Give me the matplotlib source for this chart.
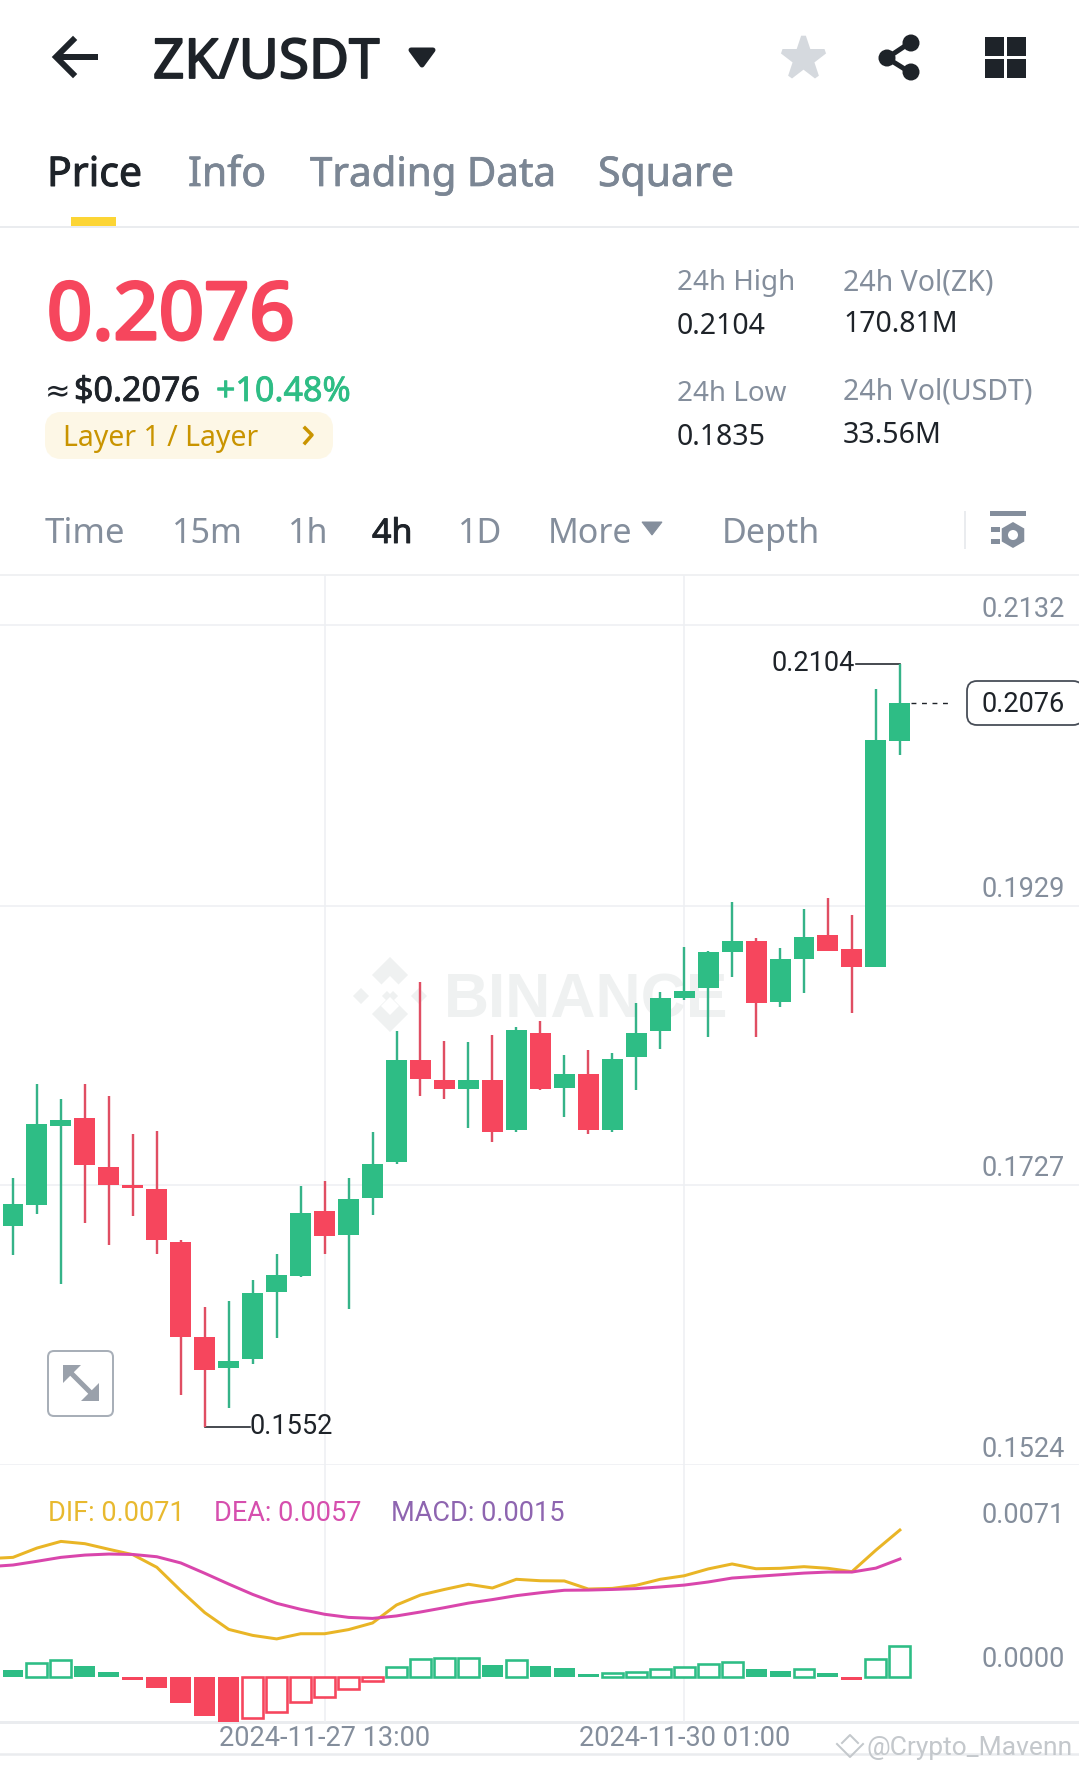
import numpy as np
import matplotlib
matplotlib.use("Agg")
import matplotlib.pyplot as plt
import matplotlib.patheffects as pe
from matplotlib.patches import FancyBboxPatch, Polygon, Rectangle, Circle, RegularPolygon

# candles, 4h bars
open_px = [0.16973, 0.17123, 0.17695, 0.17751, 0.17401, 0.17272, 0.17241, 0.16859, 0.16168, 0.15941,
           0.16011, 0.16492, 0.16610, 0.17079, 0.16910, 0.17173, 0.17434, 0.18174, 0.18031, 0.17966,
           0.18031, 0.17664, 0.18373, 0.17975, 0.18073, 0.17664, 0.18195, 0.18386, 0.18625, 0.18697,
           0.18956, 0.19036, 0.18596, 0.18909, 0.19078, 0.18977, 0.18845, 0.20481]
close_px = [0.17130, 0.17712, 0.17741, 0.17413, 0.17272, 0.17251, 0.16871, 0.16170, 0.15929, 0.15996,
            0.16487, 0.16620, 0.17069, 0.16903, 0.17171, 0.17420, 0.18174, 0.18036, 0.17966, 0.18031,
            0.17654, 0.18394, 0.17962, 0.18073, 0.17664, 0.18184, 0.18373, 0.18625, 0.18674, 0.18956,
            0.19036, 0.18586, 0.18907, 0.19065, 0.18966, 0.18845, 0.20489, 0.20760]
high_px = [0.17321, 0.18002, 0.17894, 0.18002, 0.17913, 0.17642, 0.17662, 0.16869, 0.16388, 0.16429,
           0.16579, 0.16770, 0.17260, 0.17301, 0.17321, 0.17652, 0.18384, 0.18742, 0.18314, 0.18304,
           0.18353, 0.18413, 0.18454, 0.18213, 0.18244, 0.18223, 0.18586, 0.18663, 0.18995, 0.18964,
           0.19316, 0.19057, 0.18984, 0.19267, 0.19347, 0.19225, 0.20862, 0.2104]
low_px = [0.16762, 0.17062, 0.16552, 0.16992, 0.16833, 0.17043, 0.16772, 0.15747, 0.1552, 0.15658,
          0.15970, 0.16158, 0.16601, 0.16772, 0.16371, 0.17052, 0.17422, 0.17913, 0.17894, 0.17683,
          0.17582, 0.17652, 0.17954, 0.17762, 0.17635, 0.17654, 0.17954, 0.18257, 0.18606, 0.18342,
          0.18775, 0.18342, 0.18555, 0.18658, 0.18966, 0.18516, 0.18845, 0.20380]

# MACD pane, the two lines start one bar before the first candle
dif = [0.00572, 0.00578, 0.00623, 0.00655, 0.00644, 0.00617, 0.00591, 0.00530, 0.00417, 0.00311,
       0.00230, 0.00201, 0.00184, 0.00209, 0.00209, 0.00229, 0.00261, 0.00348, 0.00396, 0.00423,
       0.00448, 0.00430, 0.00472, 0.00465, 0.00464, 0.00425, 0.00428, 0.00443, 0.00472, 0.00489,
       0.00522, 0.00546, 0.00523, 0.00525, 0.00533, 0.00525, 0.00509, 0.00613, 0.0071]
dea = [0.00533, 0.00541, 0.00559, 0.00578, 0.00589, 0.00594, 0.00592, 0.00581, 0.00551, 0.00501,
       0.00449, 0.00399, 0.00356, 0.00327, 0.00303, 0.00288, 0.00283, 0.00295, 0.00314, 0.00335,
       0.00357, 0.00374, 0.00393, 0.00407, 0.00419, 0.00420, 0.00423, 0.00427, 0.00435, 0.00444,
       0.00459, 0.00478, 0.00486, 0.00494, 0.00502, 0.00507, 0.00507, 0.00526, 0.0057]
macd = [0.00035, 0.00069, 0.00081, 0.00053, 0.00023, -0.00013, -0.00052, -0.00127, -0.00188, -0.00217,
        -0.00200, -0.00171, -0.00119, -0.00095, -0.00060, -0.00021, 0.00050, 0.00085, 0.00090, 0.00091,
        0.00056, 0.00082, 0.00053, 0.00045, 0.00013, 0.00021, 0.00023, 0.00039, 0.00047, 0.00064,
        0.00072, 0.00037, 0.00031, 0.00037, 0.00018, -0.00013, 0.00089, 0.0015]

price_ticks = [0.2132, 0.1929, 0.1727, 0.1524]
macd_ticks = [0.0071, 0.0]
date_pos = [13, 28]
date_labels = ["2024-11-27 13:00", "2024-11-30 01:00"]

GREEN = "#2ebd85"
RED = "#f6465d"
DARK = "#1e2329"
GRAY = "#848e9c"
GRID = "#eef0f3"
UI_FONT = ["Noto Sans", "DejaVu Sans"]
CHART_FONT = "Roboto"
CHART_SIZE = 19.5

W, H = 1079, 1769
DPI = 100


def pt(px):
    return px * 72 / DPI


def bar_x(v):
    # candle index from pixel x
    return (v - 13) / 23.97


fig = plt.figure(figsize=(W / DPI, H / DPI), dpi=DPI, facecolor="white")

# page chrome in pixel coordinates
ui = fig.add_axes([0, 0, 1, 1], zorder=0)
ui.set_xlim(0, W)
ui.set_ylim(H, 0)
ui.axis("off")


def label(x, y, s, size, color=GRAY, stroke=0, ha="left", family=UI_FONT):
    t = ui.text(x, y, s, fontsize=size, color=color, ha=ha, va="baseline", family=family)
    if stroke:
        # the UI font only comes in one weight here, thicken it a bit
        t.set_path_effects([pe.withStroke(linewidth=pt(stroke), foreground=color)])


# top bar
ui.plot([98, 57], [57, 57], color=DARK, lw=pt(6), solid_capstyle="butt")
ui.plot([73, 56, 73], [40, 57, 74], color=DARK, lw=pt(6), solid_joinstyle="miter")
label(153, 78, "ZK/USDT", 39.5, DARK, stroke=1.8)
ui.add_patch(Polygon([[411, 50], [433, 50], [422, 65]], closed=True, fc=DARK, ec=DARK, lw=pt(5), joinstyle="round"))
ui.plot(803, 58, marker="*", ms=pt(44), color="#d5d9de", mec="#d5d9de", mew=pt(5), mfc="#d5d9de")
ui.plot([911, 887, 911], [42, 58, 73], color=DARK, lw=pt(5))
for cx, cy in [(911, 43), (887, 58), (911, 72)]:
    ui.add_patch(Circle((cx, cy), 8.5, fc=DARK, ec="none"))
for x0 in (985, 1007):
    for y0 in (37, 59):
        ui.add_patch(Rectangle((x0, y0), 18.5, 18.5, fc=DARK, ec="none"))

# tabs
label(47, 186, "Price", 29.5, DARK, stroke=1)
label(188, 186, "Info", 29.5, "#7b8694", stroke=0.7)
label(310, 186, "Trading Data", 29, "#7b8694", stroke=0.7)
label(598, 186, "Square", 29.5, "#7b8694", stroke=0.7)
ui.add_patch(Rectangle((71, 217), 45, 9, fc="#fcd535", ec="none"))
ui.plot([0, W], [227, 227], color="#eaecef", lw=pt(2))

# price block
label(47, 339, "0.2076", 57, RED, stroke=3.4)
label(45, 401, "≈", 22, DARK)
label(74, 401, "$0.2076", 24.5, DARK, stroke=0.8)
label(216, 401, "+10.48%", 24.5, GREEN, stroke=0.8)
ui.add_patch(FancyBboxPatch((53, 420), 272, 31, boxstyle="round,pad=0,rounding_size=8", mutation_aspect=1,
                            fc="#fdf7e6", ec="#fdf7e6", lw=pt(16)))
label(63, 446, "Layer 1 / Layer", 20.5, "#c99400")
ui.plot([305, 312, 305], [428, 435, 443], color="#c99400", lw=pt(3.5))

# 24h stats
label(677, 290, "24h High", 20)
label(677, 334, "0.2104", 20.5, DARK)
label(843, 290, "24h Vol(ZK)", 20.5)
label(843, 332, "170.81M", 20.5, DARK)
label(677, 401, "24h Low", 20)
label(677, 445, "0.1835", 20.5, DARK)
label(843, 399, "24h Vol(USDT)", 20.5)
label(843, 443, "33.56M", 20.5, DARK)

# interval row
label(45, 543, "Time", 25)
label(172, 543, "15m", 24.5)
label(288, 543, "1h", 24.5)
label(372, 543, "4h", 24.5, DARK, stroke=0.9)
label(458, 543, "1D", 24.5)
label(548, 543, "More", 24.5)
ui.add_patch(Polygon([[642, 522], [662, 522], [652, 535]], closed=True, fc=GRAY, ec=GRAY, lw=pt(1)))
label(722, 543, "Depth", 24.5)
ui.plot([965, 965], [512, 548], color="#eaecef", lw=pt(2))
ui.add_patch(Rectangle((990, 511), 36, 5, fc=GRAY, ec="none"))
for y0 in (527, 539):
    ui.add_patch(Rectangle((991, y0), 9, 5, fc=GRAY, ec="none"))
ui.add_patch(RegularPolygon((1013, 535), 6, radius=13, fc=GRAY, ec="none"))
ui.add_patch(Circle((1013, 535), 5, fc="white", ec="none"))
ui.plot([0, W], [574.5, 574.5], color="#f0f1f3", lw=pt(2))
ui.plot([0, W], [1722, 1722], color="#eaecef", lw=pt(3))
ui.plot([0, W], [1754, 1754], color="#eaecef", lw=pt(2.5))

# price pane
chart_top, chart_bottom = 575, 1465.3
px_per_price = 13793
y_hi = 0.2132 + (625.4 - chart_top) / px_per_price
y_lo = 0.1524
ax = fig.add_axes([0, 1 - chart_bottom / H, 1, (chart_bottom - chart_top) / H], zorder=1)
ax.patch.set_visible(False)
ax.set_xlim(bar_x(0), bar_x(W))
ax.set_ylim(y_lo, y_hi)
for s in ax.spines.values():
    s.set_visible(False)
ax.set_yticks(price_ticks, [""] * len(price_ticks))
ax.set_xticks(date_pos, [""] * len(date_pos))
ax.tick_params(length=0)
ax.grid(True, color=GRID, lw=pt(1.6))
ax.set_axisbelow(True)

# faint watermark behind the candles
ui_mark = dict(fc="#eff1f1", ec="none", zorder=1)
ui.text(444, 1017, "BINANCE", fontsize=45, fontweight="bold", color="#eff1f1", family="Liberation Sans",
        va="baseline", zorder=1)
for cx, cy, r in [(390, 975, 18), (390, 1014, 18), (361, 996, 8), (419, 996, 8), (390, 996, 8)]:
    ui.add_patch(RegularPolygon((cx, cy), 4, radius=r, **ui_mark))
for cx, cy, r in [(390, 985, 9), (390, 1006, 9)]:
    ui.add_patch(RegularPolygon((cx, cy), 4, radius=r, fc="white", ec="none", zorder=1))

idx = np.arange(len(open_px))
opens, closes = np.array(open_px), np.array(close_px)
colors = [GREEN if c >= o else RED for o, c in zip(opens, closes)]
wick_colors = ["#35b388" if c >= o else "#e04e63" for o, c in zip(opens, closes)]
ax.vlines(idx, low_px, high_px, colors=wick_colors, lw=pt(2.4), zorder=3)
ax.bar(idx, np.abs(closes - opens), bottom=np.minimum(opens, closes), width=0.875, color=colors, zorder=4)

for tick in price_ticks:
    ax.annotate(f"{tick:.4f}", xy=(1, tick), xycoords=ax.get_yaxis_transform(), xytext=(-14, 16),
                textcoords="offset pixels", ha="right", va="center", fontsize=CHART_SIZE, color=GRAY, family=CHART_FONT)

# high / low markers and last price
ax.plot([37, bar_x(856)], [high_px[37]] * 2, color=DARK, lw=pt(1.6), zorder=2)
ax.annotate("0.2104", xy=(bar_x(856), high_px[37]), xytext=(-1, 1), textcoords="offset pixels", ha="right",
            va="center", fontsize=CHART_SIZE, color=DARK, family=CHART_FONT)
ax.plot([8, bar_x(250)], [low_px[8]] * 2, color=DARK, lw=pt(1.6), zorder=2)
ax.annotate("0.1552", xy=(bar_x(249), low_px[8]), xytext=(0, 0), textcoords="offset pixels", ha="left",
            va="center", fontsize=CHART_SIZE, color=DARK, family=CHART_FONT)
ax.plot([37.45, bar_x(953)], [close_px[37]] * 2, color=DARK, lw=pt(1.4), dashes=(3.5, 4), zorder=2)
ui.add_patch(FancyBboxPatch((967, 681), 116, 44, boxstyle="round,pad=0,rounding_size=10", fc="white",
                            ec="#474d57", lw=pt(1.8), zorder=2))
ax.annotate("0.2076", xy=(1, close_px[37]), xycoords=ax.get_yaxis_transform(), xytext=(-14, -2),
            textcoords="offset pixels", ha="right", va="center", fontsize=CHART_SIZE, color=DARK, family=CHART_FONT)

# expand button
ui.add_patch(FancyBboxPatch((53, 1356), 55, 55, boxstyle="round,pad=5,rounding_size=6", zorder=5,
                            fc="white", ec="#a8afb8", lw=pt(2)))
ui.add_patch(Polygon([[63, 1365], [81, 1365], [63, 1383]], closed=True, fc="#9aa1ab", ec="none", zorder=6))
ui.add_patch(Polygon([[99, 1401], [81, 1401], [99, 1383]], closed=True, fc="#9aa1ab", ec="none", zorder=6))
ui.plot([72, 90], [1374, 1392], color="#9aa1ab", lw=pt(5), zorder=6)

# MACD pane
macd_top, macd_bottom = 1465.3, 1722
px_per_macd = 20700
zero_y = 1677
mx = fig.add_axes([0, 1 - macd_bottom / H, 1, (macd_bottom - macd_top) / H], zorder=1)
mx.patch.set_visible(False)
mx.set_xlim(bar_x(0), bar_x(W))
mx.set_ylim(-(macd_bottom - zero_y) / px_per_macd, (zero_y - macd_top) / px_per_macd)
for s in mx.spines.values():
    s.set_visible(False)
mx.set_yticks([])
mx.set_xticks(date_pos, date_labels, fontsize=CHART_SIZE, color=GRAY, family=CHART_FONT)
mx.tick_params(length=0, pad=pt(3))
mx.grid(True, axis="x", color=GRID, lw=pt(1.6))
mx.set_axisbelow(True)

hist = np.array(macd)
hist_colors = [GREEN if v >= 0 else RED for v in hist]
for i, v in enumerate(hist):
    # rising bars are hollow
    hollow = i > 0 and v >= hist[i - 1]
    mx.bar(i, v, width=0.875, zorder=3, facecolor="white" if hollow else hist_colors[i],
           edgecolor=hist_colors[i] if hollow else "none", linewidth=pt(2.6) if hollow else 0)

line_x = np.arange(-1, len(dif) - 1)
mx.plot(line_x, dif, color="#e9b526", lw=pt(3), zorder=4)
mx.plot(line_x, dea, color="#d946ac", lw=pt(3), zorder=4)

for tick, off in zip(macd_ticks, (15, 18)):
    mx.annotate(f"{tick:.4f}", xy=(1, tick), xycoords=mx.get_yaxis_transform(), xytext=(-14, off),
                textcoords="offset pixels", ha="right", va="center", fontsize=CHART_SIZE, color=GRAY, family=CHART_FONT)

fig.text(48 / W, 1 - 1513 / H, f"DIF: {dif[-1]:.4f}", fontsize=CHART_SIZE, color="#e8b92f", family=CHART_FONT, va="center")
fig.text(214 / W, 1 - 1513 / H, f"DEA: {dea[-1]:.4f}", fontsize=CHART_SIZE, color="#d64fae", family=CHART_FONT, va="center")
fig.text(391 / W, 1 - 1513 / H, f"MACD: {macd[-1]:.4f}", fontsize=CHART_SIZE, color="#8e65b0", family=CHART_FONT, va="center")

# reposter mark at the bottom right
fig.text(867 / W, 1 - 1748 / H, "@Crypto_Mavenn", fontsize=19, color="#c4c8cc", family=CHART_FONT, va="center", zorder=5)
ui.plot([837, 850, 863], [1744, 1757, 1744], color="#c4c8cc", lw=pt(2), zorder=5)
ui.plot([842, 850, 858], [1743, 1735, 1743], color="#c4c8cc", lw=pt(2), zorder=5)

fig.savefig("out.png", dpi=DPI)
